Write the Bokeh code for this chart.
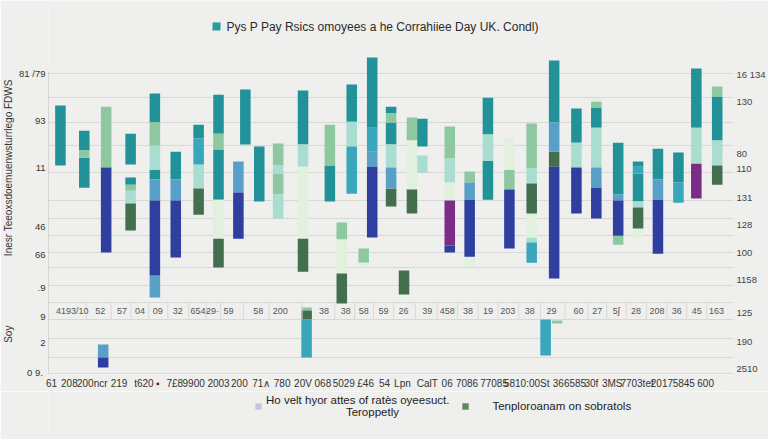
from bokeh.core.properties import value
from bokeh.embed import file_html
from bokeh.layouts import column
from bokeh.models import (ColumnDataSource, FixedTicker, Label, Legend,
                          LegendItem, LinearAxis, Range1d)
from bokeh.plotting import figure
from bokeh.resources import INLINE

NBSP = "\u00a0"
TITLE = "Pys P Pay Rsics omoyees a he Corrahiiee Day UK. Condl)"
Y_LABEL = "Inesr Teeoxsdoemuenwsturrlego FDWS"
LOWER_LABEL = "Soy"
LEGEND_A = "Ho velt hyor attes of rat\u00e8s oyeesuct.\n" + NBSP * 25 + "Teroppetly"
LEGEND_B = "      Tenploroanam on sobratols"

# floating segments per series: (slot, low, high)
teal_segs = [
    (0.25, 69.7, 89.7), (1.45, 74.7, 81.3), (1.45, 62.3, 72.3),
    (3.78, 70.0, 80.3), (3.78, 63.3, 65.7), (5.0, 84.0, 93.7),
    (5.0, 65.0, 68.3), (6.05, 65.0, 74.3), (7.2, 78.7, 83.3),
    (8.2, 80.3, 93.3), (8.2, 58.3, 75.0), (9.55, 76.7, 95.0),
    (10.25, 57.7, 76.0), (12.45, 76.7, 94.7), (13.8, 57.7, 69.7),
    (14.9, 84.3, 96.7), (15.93, 82.3, 105.7), (16.88, 87.0, 89.3),
    (16.88, 76.7, 84.0), (18.45, 76.0, 85.3), (21.75, 80.0, 92.3),
    (21.75, 58.3, 71.3), (25.08, 84.0, 104.7), (26.2, 77.3, 88.7),
    (27.2, 82.3, 89.0), (28.3, 60.0, 77.3), (29.3, 69.3, 71.0),
    (29.3, 57.7, 67.0), (30.3, 65.0, 75.3), (31.33, 64.0, 74.0),
    (32.23, 82.3, 102.0), (33.28, 78.0, 92.7),
]
green_segs = [
    (1.45, 72.3, 74.7), (2.55, 69.0, 89.3), (3.78, 61.3, 63.3),
    (5.0, 76.3, 84.0), (8.2, 75.0, 80.3), (11.2, 69.7, 77.0),
    (11.2, 60.0, 67.0), (13.8, 69.7, 83.3), (14.4, 45.0, 50.7),
    (15.5, 37.3, 42.0), (16.88, 84.0, 87.0), (17.93, 78.0, 85.7),
    (19.83, 72.0, 82.7), (20.83, 64.0, 67.7), (22.83, 61.7, 68.3),
    (23.95, 68.7, 83.7), (27.2, 89.0, 91.0), (28.3, 43.3, 46.3),
    (33.28, 92.7, 96.0), (12.63, 21.3, 22.3), (25.23, 17.0, 18.0),
]
mint_segs = [
    (3.78, 57.0, 61.3), (5.0, 68.3, 76.3), (7.2, 62.0, 70.0),
    (11.2, 67.0, 69.7), (11.2, 52.0, 60.0), (12.45, 69.3, 76.7),
    (14.9, 76.0, 84.3), (16.88, 69.0, 76.7), (18.45, 67.3, 73.0),
    (19.83, 64.0, 72.0), (21.75, 71.3, 80.0), (23.95, 63.7, 68.7),
    (23.95, 44.0, 45.7), (26.2, 69.0, 77.3), (27.2, 69.0, 82.3),
    (29.3, 55.7, 57.7), (32.23, 70.3, 82.3), (33.28, 69.7, 78.0),
]
pale_segs = [
    (8.2, 45.3, 58.3), (12.45, 45.3, 69.3), (14.4, 33.7, 45.0),
    (15.5, 35.7, 37.3), (17.93, 61.7, 78.0), (19.83, 58.0, 64.0),
    (20.83, 36.0, 39.3), (22.83, 68.3, 78.7), (23.95, 45.7, 53.7),
    (27.2, 91.0, 92.0), (29.3, 45.7, 48.7),
]
dark_segs = [
    (3.78, 48.0, 57.0), (7.2, 53.3, 62.0), (8.2, 35.7, 45.3),
    (12.45, 34.3, 45.3), (14.4, 23.7, 33.7), (16.88, 56.0, 62.0),
    (17.53, 26.7, 34.7), (17.93, 53.7, 61.7), (23.95, 53.7, 63.7),
    (25.08, 69.3, 74.3), (29.3, 48.7, 55.7), (33.28, 63.3, 69.7),
    (12.63, 18.3, 21.3),
]
cyan_segs = [
    (7.2, 70.0, 78.7), (14.9, 60.3, 76.0), (15.93, 74.3, 82.3),
    (23.95, 37.3, 44.0), (29.3, 67.0, 69.3), (31.33, 57.3, 64.0),
    (12.63, 5.7, 18.3), (24.65, 6.3, 18.3),
]
sky_segs = [
    (5.0, 58.0, 65.0), (5.0, 25.7, 33.0), (6.05, 58.0, 65.0),
    (9.2, 60.7, 71.0), (15.93, 69.3, 74.3), (16.88, 62.0, 69.0),
    (20.83, 58.3, 64.0), (25.08, 74.3, 84.0), (27.2, 62.3, 69.0),
    (28.3, 58.0, 60.0), (30.3, 58.3, 65.0), (2.4, 5.7, 10.0),
]
blue_segs = [
    (2.55, 40.7, 69.0), (5.0, 33.0, 58.0), (6.05, 39.0, 58.0),
    (9.2, 45.3, 60.7), (15.93, 45.7, 69.3), (19.83, 40.7, 43.0),
    (20.83, 39.3, 58.3), (22.83, 42.0, 61.7), (25.08, 32.0, 69.3),
    (26.2, 53.7, 69.0), (27.2, 52.0, 62.3), (28.3, 46.3, 58.0),
    (30.3, 40.3, 58.3), (2.4, 2.3, 5.7),
]
purple_segs = [(19.83, 43.0, 58.0), (32.23, 58.7, 70.3)]

# row of cell values between the two panels
strip_x = [0.85, 2.25, 3.35, 4.25, 5.15, 6.15, 7.25, 7.9, 8.7, 10.2, 11.3,
           13.5, 14.6, 15.5, 16.5, 17.5, 18.7, 19.7, 20.75, 21.75, 22.75,
           23.85, 24.95, 26.3, 27.25, 28.2, 29.2, 30.25, 31.25, 32.25, 33.25]
strip_text = ["4193/10", "52", "57", "04", "09", "32", "654\u00b7", "29\u00b7",
              "59", "58", "200", "38", "38", "58", "59", "26", "39", "458",
              "38", "19", "203", "38", "29", "60", "27", "5\u0283", "28",
              "208", "36", "45", "163"]
strip_low, strip_high = 18.3, 24.0

# category ticks along the bottom
x_ticks = [-0.2, 0.7, 1.85, 3.2, 4.45, 5.15, 6.0, 6.95, 8.2, 9.25, 10.35,
           11.4, 12.45, 13.45, 14.5, 15.6, 16.55, 17.45, 18.7, 19.7, 20.7,
           21.5, 22.2, 23.7, 25.85, 26.95, 28.0, 29.25, 30.5, 31.6, 32.7]
x_labels = ["61", "208", "200ncr", "219", "t620", "\u25aa", "7\u00a38", "9900",
            "2003", "200", "71\u2227", "780", "20V", "068", "5029", "\u00a346",
            "54", "Lpn", "CalT", "06", "7086", "7", "7085", "5810:00St",
            "366585", "30f", "3MS", "7703tet", "2017", "5845", "600"]

left_ticks = [100.3, 84.7, 69.0, 49.3, 40.0, 29.0, 19.3, 10.7, 0.7]
left_labels = ["81 /79", "93", "11", "46", "66", ".9", "9", "2", "0  9."]
right_ticks = [100.0, 91.0, 73.7, 68.7, 59.0, 50.0, 40.7, 31.7, 20.7, 11.0, 2.0]
right_labels = ["16 134", "130", "80", "110", "131", "128", "100", "1158",
                "125", "190", "2510"]
grid_levels = [100.3, 92.3, 84.0, 76.3, 67.3, 58.0, 52.0, 46.3, 40.7, 35.7,
               29.7, 24.0, 18.3, 12.0, 5.7, 0.3]

BG = "#efefee"
GRID = "#d8d8d6"
FONT = "Liberation Sans"
BAR_W = 0.53

p = figure(width=768, height=391, output_backend="svg", toolbar_location=None,
           x_range=Range1d(-0.35, 34.1), y_range=Range1d(0, 124.7),
           min_border_left=46, min_border_right=33, min_border_top=0,
           min_border_bottom=17, background_fill_color=BG, border_fill_color=BG,
           outline_line_color=None)

p.xgrid.visible = False
p.ygrid.ticker = FixedTicker(ticks=grid_levels)
p.ygrid.grid_line_color = GRID
p.ygrid.grid_line_width = 1

# left axis: one rotated caption carries the lower and the upper panel names
ya = p.yaxis[0]
ya.ticker = FixedTicker(ticks=left_ticks)
ya.major_label_overrides = dict(zip(left_ticks, left_labels))
ya.bounds = (0, 101)
ya.axis_line_color = "#d6d6d4"
ya.major_tick_out = 0
ya.major_tick_in = 0
ya.minor_tick_out = 0
ya.minor_tick_in = 0
ya.major_label_standoff = 3
ya.major_label_text_font = FONT
ya.major_label_text_font_size = "9.5px"
ya.major_label_text_color = "#333333"
ya.axis_label = LOWER_LABEL + NBSP * 25 + Y_LABEL + NBSP * 17
ya.axis_label_standoff = 2
ya.axis_label_text_font = FONT
ya.axis_label_text_font_size = "10px"
ya.axis_label_text_font_style = "normal"
ya.axis_label_text_color = "#333333"

# right axis
ra = LinearAxis(ticker=FixedTicker(ticks=right_ticks),
                major_label_overrides=dict(zip(right_ticks, right_labels)),
                axis_line_color=None, major_tick_out=0, major_tick_in=0,
                minor_tick_out=0, minor_tick_in=0, major_label_standoff=3,
                major_label_text_font=FONT, major_label_text_font_size="9.5px",
                major_label_text_color="#444444")
p.add_layout(ra, "right")

# bottom axis
xa = p.xaxis[0]
xa.ticker = FixedTicker(ticks=x_ticks)
xa.major_label_overrides = dict(zip(x_ticks, x_labels))
xa.axis_line_color = None
xa.major_tick_out = 0
xa.major_tick_in = 0
xa.minor_tick_out = 0
xa.minor_tick_in = 0
xa.major_label_standoff = 3
xa.major_label_text_font = FONT
xa.major_label_text_font_size = "10px"
xa.major_label_text_color = "#333333"

# stacked floating bars
series = [
    (teal_segs, "#209298"),
    (green_segs, "#8dc8a0"),
    (mint_segs, "#a8ddd0"),
    (pale_segs, "#e2f0de"),
    (dark_segs, "#436f4e"),
    (cyan_segs, "#3aa6bc"),
    (sky_segs, "#58a0c8"),
    (blue_segs, "#2f3fa0"),
    (purple_segs, "#7b2c87"),
]
for segs, color in series:
    xs, lows, highs = zip(*segs)
    src = ColumnDataSource(dict(x=list(xs), bottom=list(lows), top=list(highs)))
    p.vbar(x="x", bottom="bottom", top="top", width=BAR_W, source=src,
           fill_color=color, line_color=None)

# cell row: separators between neighbouring values, then the values
seps = [(a + b) / 2 for a, b in zip(strip_x[:-1], strip_x[1:])]
p.segment(x0=seps, y0=[strip_low] * len(seps), x1=seps,
          y1=[strip_high] * len(seps), line_color=GRID, line_width=1)
p.text(x=strip_x, y=[(strip_low + strip_high) / 2] * len(strip_x),
       text=strip_text, text_align="center", text_baseline="middle",
       text_font=value(FONT), text_font_size="9px", text_color="#555555")

# heading with its marker
p.scatter(x=[8.1], y=[116.0], marker="square", size=8, fill_color="#2a9a9c",
          line_color=None)
p.add_layout(Label(x=16.45, y=116.0, text=TITLE, text_align="center",
                   text_baseline="middle", text_font=FONT,
                   text_font_size="12px", text_color="#2a2a2a"))

# legend strip under the chart
lf = figure(width=768, height=48, output_backend="svg", toolbar_location=None,
            x_range=Range1d(0, 1), y_range=Range1d(0, 1),
            x_axis_type=None, y_axis_type=None,
            min_border=0, background_fill_color=BG, border_fill_color=BG,
            outline_line_color=None)
lf.grid.visible = False
sw_a = lf.quad(left=[2], right=[3], bottom=[2], top=[3], fill_color="#c9c3e3",
               line_color=None)
sw_b = lf.quad(left=[2], right=[3], bottom=[2], top=[3], fill_color="#5b8b62",
               line_color=None)
legend = Legend(items=[LegendItem(label=LEGEND_A, renderers=[sw_a]),
                       LegendItem(label=LEGEND_B, renderers=[sw_b])],
                orientation="horizontal", location=(206, 21),
                glyph_width=8, glyph_height=8, label_standoff=4, spacing=12,
                padding=0, margin=0, border_line_color=None,
                background_fill_alpha=0, label_text_font=FONT,
                label_text_font_size="11.5px", label_text_color="#222222")
lf.add_layout(legend)

open("out.html", "w").write(file_html(column(p, lf, spacing=0), INLINE))
